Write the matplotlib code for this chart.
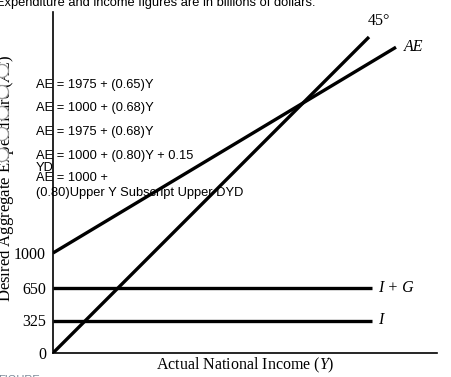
import matplotlib

matplotlib.use("Agg")
import matplotlib.pyplot as plt
from matplotlib.patches import Circle

# values (billions of dollars)
income_max = 3840
ae_intercept = 1000
ae_slope = 0.60
ae_end = 3430
line45_end = 3160
i_level = 325
ig_level = 650
flat_end = 3190
y_ticks = [0, 325, 650, 1000]

options = [
    "AE = 1975 + (0.65)Y",
    "AE = 1000 + (0.68)Y",
    "AE = 1975 + (0.68)Y",
    "AE = 1000 + (0.80)Y + 0.15",
    "AE = 1000 +",
]

serif = "Liberation Serif"
sans = "Liberation Sans"
plt.rcParams["mathtext.fontset"] = "custom"
plt.rcParams["mathtext.it"] = "Liberation Serif:italic"
plt.rcParams["mathtext.rm"] = "Liberation Serif"
W, H = 452, 377

fig = plt.figure(figsize=(W / 100, H / 100), dpi=100)
ax = fig.add_axes([53 / W, 24 / H, 384 / W, 341 / H])
ax.set_xlim(0, income_max)
ax.set_ylim(0, 3410)
for s in ("top", "right"):
    ax.spines[s].set_visible(False)
for s in ("left", "bottom"):
    ax.spines[s].set_linewidth(1.2)
ax.set_xticks([])
ax.set_yticks(y_ticks)
ax.set_yticklabels([str(v) for v in y_ticks], fontfamily=serif, fontsize=11.5)
ax.tick_params(axis="y", length=0, pad=5)

lw = 2.4
ax.plot([0, line45_end], [0, line45_end], color="black", lw=lw, solid_capstyle="butt")
ax.plot([0, ae_end], [ae_intercept, ae_intercept + ae_slope * ae_end],
        color="black", lw=lw, solid_capstyle="butt")
ax.plot([0, flat_end], [ig_level, ig_level], color="black", lw=lw, solid_capstyle="butt")
ax.plot([0, flat_end], [i_level, i_level], color="black", lw=lw, solid_capstyle="butt")

ax.text(line45_end - 10, line45_end + 80, "45°", fontfamily=serif, fontsize=11.5,
        ha="left", va="bottom")
ax.text(ae_end + 80, ae_intercept + ae_slope * ae_end, "AE", fontfamily=serif,
        fontstyle="italic", fontsize=11.5, ha="left", va="center")
ax.text(flat_end + 60, ig_level, "I + G", fontfamily=serif, fontstyle="italic",
        fontsize=11.5, ha="left", va="center")
ax.text(flat_end + 60, i_level, "I", fontfamily=serif, fontstyle="italic",
        fontsize=11.5, ha="left", va="center")
ax.set_xlabel("Actual National Income ($\\mathit{Y}$)", fontfamily=serif,
              fontsize=11.5, labelpad=2)

# overlay in pixel coordinates
ov = fig.add_axes([0, 0, 1, 1], facecolor="none")
ov.set_xlim(0, W)
ov.set_ylim(H, 0)
ov.axis("off")

ov.text(-4, 3, "Expenditure and income figures are in billions of dollars.",
        fontfamily=sans, fontsize=9.3, ha="left", va="center")
ov.text(6, 178, "Desired Aggregate Expenditure ($\\mathit{AE}$)", fontfamily=serif,
        fontsize=12, rotation=90, ha="center", va="center")
for cy in [71, 92, 113, 134, 155]:
    ov.add_patch(Circle((2, cy), 6.5, facecolor="white", edgecolor="#999999",
                        lw=0.9, zorder=5))

for k, label in enumerate(options[:4]):
    ov.text(36, 85 + 23.5 * k, label, fontfamily=sans, fontsize=9.3,
            ha="left", va="center", zorder=6)
ov.text(36, 168, "YD", fontfamily=sans, fontsize=9.3, ha="left", va="center", zorder=6)
ov.text(36, 178, options[4], fontfamily=sans, fontsize=9.3, ha="left", va="center",
        zorder=6)
ov.text(36, 193, "(0.80)Upper Y Subscript Upper DYD", fontfamily=sans, fontsize=9.3,
        ha="left", va="center", zorder=6)
ov.text(-2, 380, "FIGURE", fontfamily=sans, fontsize=8, color="#7a8a99",
        ha="left", va="center")

fig.savefig("out.png", dpi=100)
